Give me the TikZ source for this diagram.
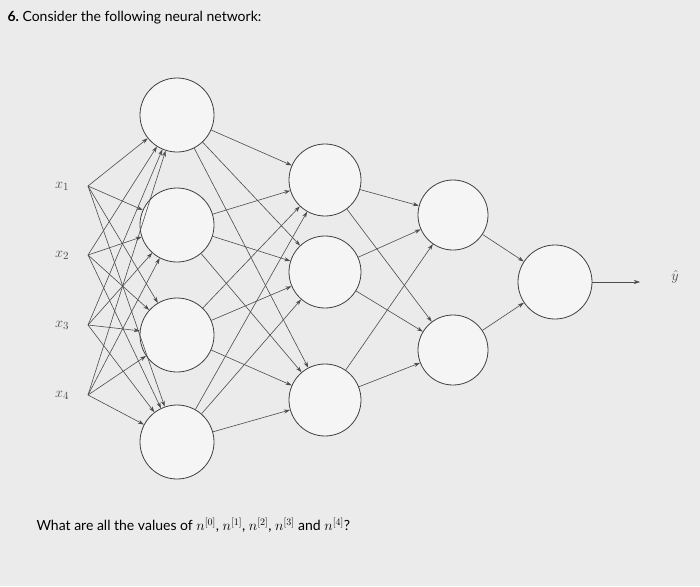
\documentclass[tikz,border=0pt]{standalone}
\usepackage{fontspec}
\setsansfont{Lato}
\usetikzlibrary{arrows.meta}
\begin{document}
\begin{tikzpicture}[x=1pt,y=-1pt,
  neuron/.style={circle,draw=black!75,line width=0.8pt,fill=white!96!black,minimum size=74pt,inner sep=0pt},
  edge/.style={draw=black!70,line width=0.6pt,-{Stealth[length=6pt,width=4pt]}},
  inp/.style={font=\fontsize{15}{18}\selectfont,text=black!70}]
\fill[black!8] (0,0) rectangle (700,586);
\useasboundingbox (0,0) rectangle (700,586);
\node[anchor=west,font=\sffamily\fontsize{14}{17}\selectfont] (title) at (4,18) {\textbf{6.}\ Consider the following neural network:};
\foreach \i/\y in {1/186,2/255,3/325,4/395}{
  \node[inp] (x\i) at (62,\y) {$x_{\i}$};
  \coordinate (s\i) at (88,\y);}
\foreach \i/\y in {1/115,2/225,3/335,4/442}{\node[neuron] (a\i) at (177,\y) {};}
\foreach \i/\y in {1/180,2/272,3/400}{\node[neuron,minimum size=72pt] (b\i) at (325,\y) {};}
\foreach \i/\y in {1/215,2/350}{\node[neuron,minimum size=70pt] (c\i) at (453,\y) {};}
\node[neuron] (d) at (555,282) {};
\node[inp] (yh) at (675,277) {$\hat{y}$};
\foreach \i in {1,...,4}{\foreach \j in {1,...,4}{\draw[edge] (s\i) -- (a\j);}}
\foreach \i in {1,...,4}{\foreach \j in {1,...,3}{\draw[edge] (a\i) -- (b\j);}}
\foreach \i in {1,...,3}{\foreach \j in {1,2}{\draw[edge] (b\i) -- (c\j);}}
\foreach \i in {1,2}{\draw[edge] (c\i) -- (d);}
\draw[edge] (d) -- (640,282) coordinate (e);
\node[anchor=west,font=\sffamily\fontsize{14}{17}\selectfont] (q) at (33,525) {What are all the values of $n^{[0]}$, $n^{[1]}$, $n^{[2]}$, $n^{[3]}$ and $n^{[4]}$?};
\end{tikzpicture}
\end{document}
